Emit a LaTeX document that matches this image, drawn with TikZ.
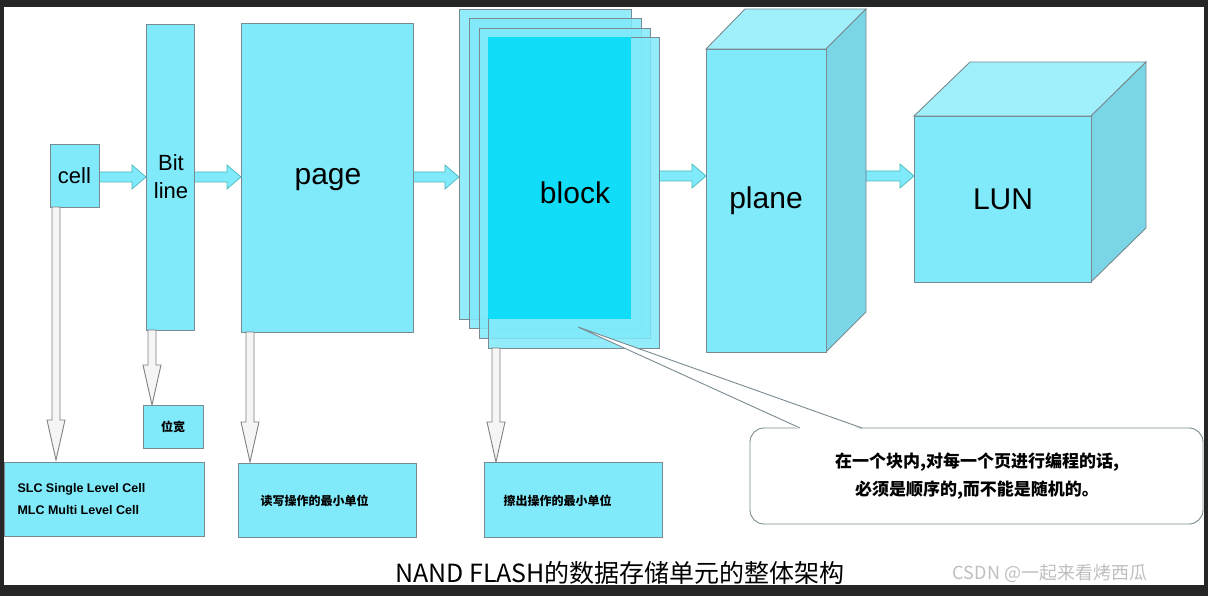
\documentclass[tikz,border=0pt]{standalone}
\usepackage{fontspec}
\setmainfont{Liberation Sans}
\newfontfamily\cjk{Noto Sans CJK SC}
\definecolor{bx}{HTML}{80E9FA}
\definecolor{bfront}{HTML}{12DDF8}
\definecolor{bside}{HTML}{7AD6E6}
\definecolor{btop}{HTML}{A0F0FC}
\definecolor{ln}{HTML}{7A8A90}
\begin{document}
\begin{tikzpicture}[x=1pt,y=-1pt,
  box/.style={draw=ln,fill=bx,line width=0.9pt},
  harr/.style={draw=ln!60!cyan,fill=bx,line width=0.7pt},
  varr/.style={draw=gray,fill=gray!8,line width=0.9pt},
  big/.style={font=\fontsize{30}{34}\selectfont},
  mid/.style={font=\fontsize{22}{28}\selectfont},
  small/.style={font=\cjk\bfseries\fontsize{12}{20}\selectfont}]
\newcommand\harrow[3]{\draw[harr] ({#1},{#3-5})--({#2-14},{#3-5})--({#2-14},{#3-12})--({#2},{#3})--({#2-14},{#3+12})--({#2-14},{#3+5})--({#1},{#3+5})--cycle;}
\newcommand\varrow[3]{\draw[varr] ({#1-4},{#2})--({#1-4},{#3-40})--({#1-9},{#3-40})--({#1},{#3})--({#1+9},{#3-40})--({#1+4},{#3-40})--({#1+4},{#2})--cycle;}
\fill[black!85] (0,0) rectangle (1208,596);
\fill[white] (4,7) rectangle (1204,585);
\useasboundingbox (0,0) rectangle (1208,596);
% arrows
\harrow{99}{146}{177}
\harrow{194}{241}{177}
\harrow{413}{459}{177}
\harrow{659}{706}{176}
\harrow{866}{914}{176}
% cell, bitline, page
\node[box,minimum width=49pt,minimum height=63pt,mid] (cell) at (74.5,175.5) {cell};
\node[box,minimum width=48pt,minimum height=306pt] (bit) at (170,177) {};
\node[mid,align=center] at (171,177) {Bit\\line};
\node[box,minimum width=172pt,minimum height=309pt,anchor=north west] (page) at (241,23) {};
\node[big] at (328,180) {page};
% block stack
\draw[box,fill opacity=0.85] (459,9) rectangle (631,319);
\draw[box,fill opacity=0.85] (469,18) rectangle (641,328);
\draw[box,fill opacity=0.85] (479,28) rectangle (650,338);
\draw[box,fill opacity=0.85] (488,37) rectangle (659,348);
\fill[bfront] (488,37) rectangle (631,319);
\node[big] (block) at (575,193) {block};
% plane
\draw[box,fill=btop] (706,49)--(745,9)--(866,9)--(826,49)--cycle;
\draw[box,fill=bside] (826,49)--(866,9)--(866,312)--(826,352)--cycle;
\draw[box] (706,49) rectangle (826,352);
\node[big] (plane) at (766,201) {plane};
% LUN
\draw[box,fill=btop] (914,116)--(970,62)--(1146,62)--(1091,116)--cycle;
\draw[box,fill=bside] (1091,116)--(1146,62)--(1146,228)--(1091,282)--cycle;
\draw[box] (914,116) rectangle (1091,282);
\node[big] (lun) at (1003,199) {LUN};
% down arrows
\varrow{56}{207}{460}
\varrow{152}{330}{405}
\varrow{250}{332}{462}
\varrow{496}{348}{462}
% bottom boxes
\draw[box] (4,462) rectangle (204,536);
\node[font=\bfseries\fontsize{12.5}{22}\selectfont,align=left,anchor=west] (slc) at (14,499) {SLC Single Level Cell\\MLC Multi Level Cell};
\draw[box] (143,405) rectangle (203,448);
\node[small] (kw) at (173,427) {位宽};
\draw[box] (238,463) rectangle (416,537);
\node[small,anchor=west] (rw) at (257,501) {读写操作的最小单位};
\draw[box] (484,462) rectangle (662,537);
\node[small,anchor=west] (er) at (500,501) {擦出操作的最小单位};
% callout
\draw[draw=ln,fill=white,line width=0.9pt,rounded corners=14pt] (750,428) rectangle (1203,524);
\fill[white] (578,327)--(800,429.5)--(862,429.5)--cycle;
\draw[ln,line width=0.9pt] (800,428)--(578,327)--(862,428);
\node[font=\cjk\bfseries\fontsize{17}{28}\selectfont,align=center] (note) at (977,476) {在一个块内,对每一个页进行编程的话,\\必须是顺序的,而不能是随机的。};
% title
\node[font=\cjk\fontsize{25}{28}\selectfont] (title) at (620,573) {NAND FLASH的数据存储单元的整体架构};
\node[font=\cjk\fontsize{18}{20}\selectfont,text=gray!50] (wm) at (1050,573) {CSDN @一起来看烤西瓜};
\end{tikzpicture}
\end{document}
